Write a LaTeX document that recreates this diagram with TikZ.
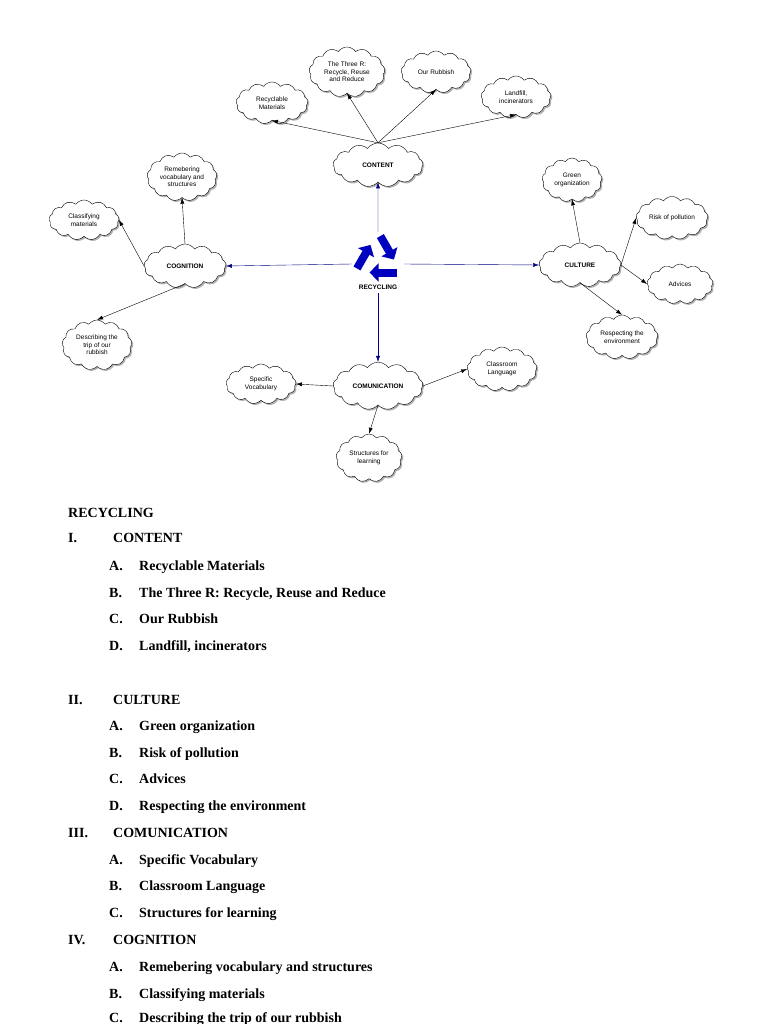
\documentclass[tikz,border=0pt]{standalone}
\usepackage{fontspec}
\setmainfont{Liberation Serif}
\newfontfamily\sansf{Liberation Sans}
\usetikzlibrary{shapes.symbols,arrows.meta,shadows,calc}
\begin{document}
\begin{tikzpicture}[x=1pt,y=-1pt,
  cl/.style={cloud,cloud puffs=13,cloud puff arc=110,aspect=1.8,draw,fill=white,
    drop shadow={shadow xshift=1.5pt,shadow yshift=-1.5pt,fill=black!60},
    font=\sansf\fontsize{6.5}{7.5}\selectfont,align=center,inner sep=0pt,
    minimum width=#1,minimum height=42},
  cl/.default=70,
  main/.style={cl=#1,font=\sansf\bfseries\fontsize{6.5}{7.5}\selectfont,minimum height=44},
  main/.default=90,
  ar/.style={-{Latex[length=6pt,width=4pt]},thin},
  bl/.style={-{Latex[length=6pt,width=4pt]},color=blue!50!black,thin},
  tx/.style={anchor=base west,font=\bfseries\fontsize{14}{16}\selectfont,inner sep=0pt}]
\useasboundingbox (0,0) rectangle (768,1024);
% recycling symbol
\coordinate (rc) at (378,259);
\coordinate (v1) at ($(rc)+(270:27)$);
\coordinate (v2) at ($(rc)+(30:27)$);
\coordinate (v3) at ($(rc)+(150:27)$);
\begin{scope}[line width=8pt,draw=blue!75!black,fill=blue!75!black]
 \draw[-{Triangle[length=9pt,width=18pt]}] ($(v1)!0.1!(v2)$) -- ($(v1)!0.68!(v2)$);
 \draw[-{Triangle[length=9pt,width=18pt]}] ($(v2)!0.1!(v3)$) -- ($(v2)!0.68!(v3)$);
 \draw[-{Triangle[length=9pt,width=18pt]}] ($(v3)!0.1!(v1)$) -- ($(v3)!0.68!(v1)$);
\end{scope}
\node[font=\sansf\bfseries\fontsize{6.5}{7.5}\selectfont] (rl) at (378,287) {RECYCLING};
% main
\node[main] (content) at (378,165) {CONTENT};
\node[main=82] (cog) at (185,266) {COGNITION};
\node[main=82] (cul) at (580,265) {CULTURE};
\node[main] (com) at (378,386) {COMUNICATION};
% content children
\node[cl=72] (rm) at (272,103) {Recyclable\\Materials};
\node[cl=76,minimum height=50] (tr) at (347,72) {The Three R:\\Recycle, Reuse\\and Reduce};
\node[cl=70] (or) at (436,72) {Our Rubbish};
\node[cl=70] (lf) at (516,97) {Landfill,\\incinerators};
% cognition
\node[cl=70,minimum height=48] (rv) at (182,177) {Remebering\\vocabulary and\\structures};
\node[cl=70,minimum height=40] (cm) at (84,220) {Classifying\\materials};
\node[cl=70,minimum height=50] (dt) at (97,345) {Describing the\\trip of our\\rubbish};
% culture
\node[cl=60,minimum height=44] (go) at (572,180) {Green\\organization};
\node[cl=72,minimum height=40] (rp) at (672,218) {Risk of pollution};
\node[cl=66,minimum height=40] (ad) at (680,284) {Advices};
\node[cl=72,minimum height=44] (re) at (622,337) {Respecting the\\environment};
% comunication
\node[cl=70,minimum height=40] (sv) at (261,384) {Specific\\Vocabulary};
\node[cl=70,minimum height=44] (cr) at (502,369) {Classroom\\Language};
\node[cl=66,minimum height=48] (sl) at (369,458) {Structures for\\learning};
% blue arrows
\coordinate (bw) at (352,264);
\coordinate (be) at (404,264);
\coordinate (bn) at (378,232);
\draw[bl] (bw) -- (cog.east);
\draw[bl] (be) -- (cul.west);
\draw[bl] (bn) -- (content.south);
\draw[bl] (rl.south) -- (com.north);
% black arrows
\draw[ar] (content.north) -- (rm.south);
\draw[ar] (content.north) -- (tr.south);
\draw[ar] (content.north) -- (or.south);
\draw[ar] (content.north) -- (lf.south);
\draw[ar] (cog.north) -- (rv.south);
\draw[ar] (cog.west) -- (cm.east);
\draw[ar] (cog.south) -- (dt.north);
\draw[ar] (cul.north) -- (go.south);
\draw[ar] (cul.east) -- (rp.west);
\draw[ar] (cul.east) -- (ad.west);
\draw[ar] (cul.south) -- (re.north);
\draw[ar] (com.west) -- (sv.east);
\draw[ar] (com.east) -- (cr.west);
\draw[ar] (com.south) -- (sl.north);
% outline text
\node[tx] at (68,517) {RECYCLING};
\node[tx] at (68,542) {I.};  \node[tx] at (113,542) {CONTENT};
\node[tx] at (109,570) {A.}; \node[tx] at (139,570) {Recyclable Materials};
\node[tx] at (109,597) {B.}; \node[tx] at (139,597) {The Three R: Recycle, Reuse and Reduce};
\node[tx] at (109,623) {C.}; \node[tx] at (139,623) {Our Rubbish};
\node[tx] at (109,650) {D.}; \node[tx] at (139,650) {Landfill, incinerators};
\node[tx] at (68,704) {II.}; \node[tx] at (113,704) {CULTURE};
\node[tx] at (109,730) {A.}; \node[tx] at (139,730) {Green organization};
\node[tx] at (109,757) {B.}; \node[tx] at (139,757) {Risk of pollution};
\node[tx] at (109,783) {C.}; \node[tx] at (139,783) {Advices};
\node[tx] at (109,810) {D.}; \node[tx] at (139,810) {Respecting the environment};
\node[tx] at (68,837) {III.}; \node[tx] at (113,837) {COMUNICATION};
\node[tx] at (109,864) {A.}; \node[tx] at (139,864) {Specific Vocabulary};
\node[tx] at (109,890) {B.}; \node[tx] at (139,890) {Classroom Language};
\node[tx] at (109,917) {C.}; \node[tx] at (139,917) {Structures for learning};
\node[tx] at (68,944) {IV.}; \node[tx] at (113,944) {COGNITION};
\node[tx] at (109,971) {A.}; \node[tx] at (139,971) {Remebering vocabulary and structures};
\node[tx] at (109,998) {B.}; \node[tx] at (139,998) {Classifying materials};
\node[tx] at (109,1022) {C.}; \node[tx] at (139,1022) {Describing the trip of our rubbish};
\end{tikzpicture}
\end{document}
